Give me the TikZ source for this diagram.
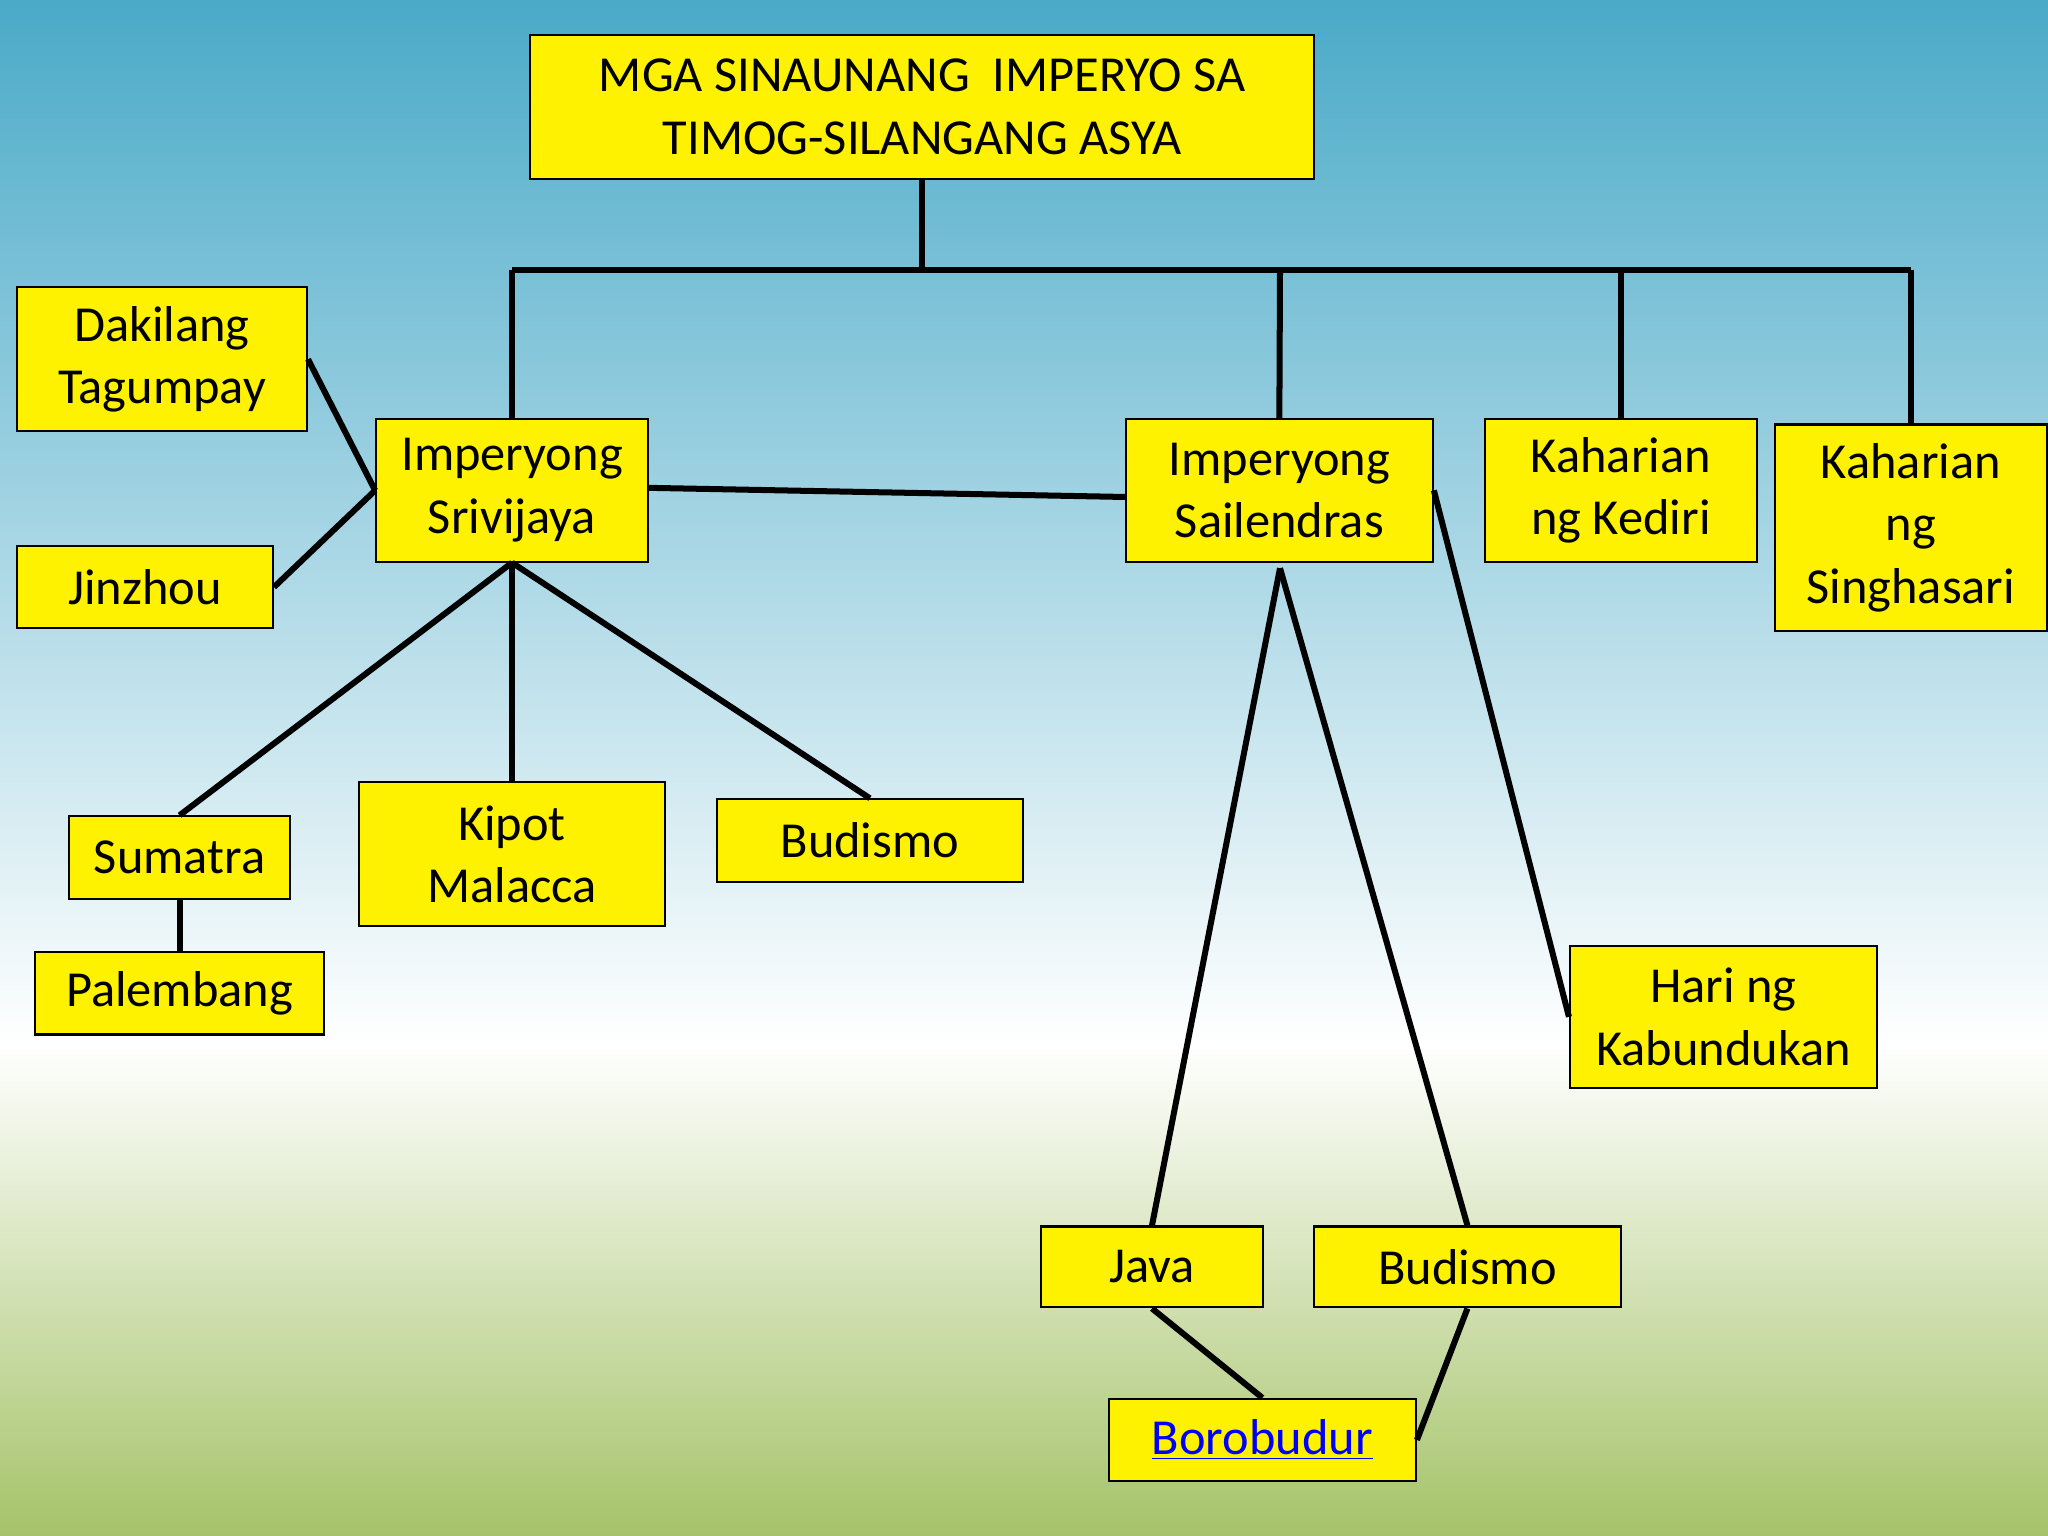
\documentclass[tikz,border=0pt]{standalone}
\usepackage{fontspec}
\setmainfont{Carlito}
\begin{document}
\begin{tikzpicture}[x=0.5pt,y=-0.5pt,
  box/.style={draw=black,line width=0.8pt,fill=yellow,align=center,inner sep=0pt,font=\fontsize{19.3}{24}\selectfont},
  ln/.style={line width=2.3pt,black}]
\useasboundingbox (0,0) rectangle (1568,1176);
\shade[top color={rgb,255:red,74;green,170;blue,200},bottom color=white] (0,0) rectangle (1568,800);
\shade[top color=white,bottom color={rgb,255:red,165;green,195;blue,105}] (0,800) rectangle (1568,1176);
\node[box,minimum width=300pt,minimum height=55pt,font=\fontsize{19.3}{24}\selectfont] (title) at (706,82) {MGA SINAUNANG\ \ IMPERYO SA\\TIMOG-SILANGANG ASYA};
\node[box,minimum width=111pt,minimum height=55pt] (dak) at (124,275) {Dakilang\\Tagumpay};
\node[box,minimum width=98pt,minimum height=31.5pt] (jin) at (111,449.5) {Jinzhou};
\node[box,minimum width=104pt,minimum height=54.5pt] (sri) at (392,375.5) {Imperyong\\Srivijaya};
\node[box,minimum width=117.5pt,minimum height=54.5pt] (sai) at (979.5,375.5) {Imperyong\\Sailendras};
\node[box,minimum width=104pt,minimum height=54.5pt] (ked) at (1241,375.5) {Kaharian\\ng Kediri};
\node[box,minimum width=104pt,minimum height=79pt] (sin) at (1463,404) {Kaharian\\ng\\Singhasari};
\node[box,minimum width=84.5pt,minimum height=31.5pt] (sum) at (137.5,656.5) {Sumatra};
\node[box,minimum width=110.5pt,minimum height=31.5pt] (pal) at (137.5,760.5) {Palembang};
\node[box,minimum width=117pt,minimum height=55pt] (kip) at (392,654) {Kipot\\Malacca};
\node[box,minimum width=117pt,minimum height=31.5pt] (bud1) at (666,643.5) {Budismo};
\node[box,minimum width=117.5pt,minimum height=54.5pt] (hari) at (1319.5,778.5) {Hari ng\\Kabundukan};
\node[box,minimum width=85pt,minimum height=31pt] (java) at (882,970) {Java};
\node[box,minimum width=117.5pt,minimum height=31pt] (bud2) at (1123.5,970) {Budismo};
\node[box,minimum width=117.5pt,minimum height=31.5pt] (boro) at (966.5,1102.5) {\textcolor{blue}{\underline{Borobudur}}};
\coordinate (bL) at (392,207); \coordinate (bR) at (1463,207);
\draw[ln] (title.south) -- (706,207);
\draw[ln] (bL) -- (bR);
\draw[ln] (bL) -- (sri.north);
\draw[ln] (980,207) -- (sai.north);
\draw[ln] (1241,207) -- (ked.north);
\draw[ln] (bR) -- (sin.north);
\draw[ln] (dak.east) -- (sri.west);
\draw[ln] (jin.east) -- (sri.west);
\draw[ln] ([yshift=1pt]sri.east) -- ([yshift=-2.5pt]sai.west);
\draw[ln] (sri.south) -- (sum.north);
\draw[ln] (sri.south) -- (kip.north);
\draw[ln] (sri.south) -- (bud1.north);
\draw[ln] (sum.south) -- (pal.north);
\draw[ln] (980,435) -- (java.north);
\draw[ln] (980,435) -- (bud2.north);
\draw[ln] (sai.east) -- (hari.west);
\draw[ln] (java.south) -- (boro.north);
\draw[ln] (bud2.south) -- (boro.east);
\end{tikzpicture}
\end{document}
